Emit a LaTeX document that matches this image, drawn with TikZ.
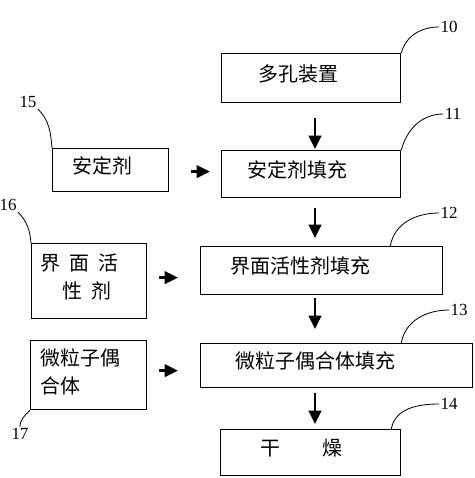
\documentclass[tikz,border=0pt]{standalone}
\usepackage{fontspec}
\setmainfont{Liberation Serif}
\newfontfamily\cjk{Noto Sans CJK SC}
\usetikzlibrary{calc,arrows.meta}

\begin{document}
\begin{tikzpicture}[x=0.03cm,y=-0.03cm,
		stepbox/.style={draw,line width=1.1pt,anchor=north west,inner ysep=0pt,align=left,font=\cjk\fontsize{17}{24}\selectfont},
		oneline/.style={text height=15pt,text depth=10pt},
		twoline/.style={text height=15pt,text depth=#1},
		flow/.style={line width=2.4pt,-{Triangle[length=0.4cm,width=0.37cm]}},
		lead/.style={line width=0.7pt},
		num/.style={font=\fontsize{14.5}{16}\selectfont,inner sep=1pt}]
		\useasboundingbox (0,0) rectangle (474,478);
		\coordinate (M) at (315,0);
		% main column
		\node[stepbox,oneline,inner xsep=1.11cm,text width=3.15cm,minimum height=1.47cm] (b10) at (221,53) {多孔装置};
		\node[stepbox,oneline,inner xsep=0.78cm,text width=3.81cm,minimum height=1.41cm] (b11) at (221,150) {安定剂填充};
		\node[stepbox,oneline,inner xsep=0.9cm,text width=5.46cm,minimum height=1.44cm] (b12) at (200,246) {界面活性剂填充};
		\node[stepbox,oneline,inner xsep=1.05cm,text width=6.06cm,minimum height=1.32cm] (b13) at (200,343) {微粒子偶合体填充};
		\node[stepbox,oneline,inner xsep=1.2cm,text width=3cm,minimum height=1.38cm] (b14) at (220,429) {干\hspace{2.1em}燥};
		% side inputs
		\node[stepbox,oneline,inner xsep=0.6cm,text width=2.28cm,minimum height=1.29cm] (b15) at (52,148) {安定剂};
		\node[stepbox,twoline=33pt,inner xsep=0.27cm,text width=2.91cm,minimum height=2.25cm] (b16) at (31,243) {界\hspace{.45em}面\hspace{.45em}活\\\hspace*{1.1em}性\hspace{.45em}剂};
		\node[stepbox,twoline=31pt,inner xsep=0.3cm,text width=2.88cm,minimum height=2.07cm] (b17) at (30,340) {微粒子偶\\合体};
		% reference numbers
		\path
		(449,27) node[num] (n10) {10}
		(453,114) node[num] (n11) {11}
		(449,213) node[num] (n12) {12}
		(459,310) node[num] (n13) {13}
		(449,404) node[num] (n14) {14}
		(28,102) node[num] (n15) {15}
		(8,205) node[num] (n16) {16}
		(20,434) node[num] (n17) {17}
		;
		\draw[lead] (b10.north east) to[out=75,in=180] (n10.west);
		\draw[lead] (b11.north east) to[out=75,in=180] (n11.west);
		\draw[lead] ($(b12.north east)+(-53,0)$) to[out=80,in=180] (n12.west);
		\draw[lead] ($(b13.north east)+(-72,0)$) to[out=80,in=180] (n13.west);
		\draw[lead] ($(b14.north east)+(-10,0)$) to[out=80,in=180] (n14.west);
		\draw[lead] (b15.north west) to[out=95,in=-45] (n15.south east);
		\draw[lead] (b16.north west) to[out=95,in=-45] (n16.south east);
		\draw[lead] (b17.south west) to[out=-135,in=90] (n17.north);
		% arrows
		\draw[flow] ($(b10.south -| M)+(0,15)$) -- ($(b11.north -| M)+(0,-1)$);
		\draw[flow] ($(b11.south -| M)+(0,10)$) -- ($(b12.north -| M)+(0,-8)$);
		\draw[flow] ($(b12.south -| M)+(0,3)$) -- ($(b13.north -| M)+(0,-14)$);
		\draw[flow] ($(b13.south -| M)+(0,5)$) -- ($(b14.north -| M)+(0,-5)$);
		\draw[flow] ($(b15.east)+(22,1.5)$) -- ($(b11.west |- b15.east)+(-11,1.5)$);
		\draw[flow] ($(b16.east)+(12,-3.5)$) -- ($(b12.west |- b16.east)+(-22,-3.5)$);
		\draw[flow] ($(b17.east)+(12,-4.5)$) -- ($(b13.west |- b17.east)+(-22,-4.5)$);
	\end{tikzpicture}
\end{document}
